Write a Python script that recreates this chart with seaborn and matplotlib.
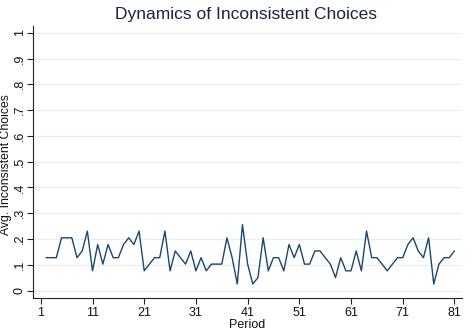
import matplotlib
matplotlib.use("Agg")
import matplotlib.pyplot as plt
import seaborn as sns
import pandas as pd

periods = list(range(2, 82))
avg_inconsistent = [
    0.128, 0.128, 0.128, 0.205, 0.205, 0.205, 0.128, 0.154, 0.231, 0.077,
    0.179, 0.103, 0.179, 0.128, 0.128, 0.179, 0.205, 0.179, 0.231, 0.077,
    0.103, 0.128, 0.128, 0.231, 0.077, 0.154, 0.128, 0.103, 0.154, 0.077,
    0.128, 0.077, 0.103, 0.103, 0.103, 0.205, 0.128, 0.026, 0.256, 0.103,
    0.026, 0.051, 0.205, 0.077, 0.128, 0.128, 0.077, 0.179, 0.128, 0.179,
    0.103, 0.103, 0.154, 0.154, 0.128, 0.103, 0.051, 0.128, 0.077, 0.077,
    0.154, 0.077, 0.231, 0.128, 0.128, 0.103, 0.077, 0.103, 0.128, 0.128,
    0.179, 0.205, 0.154, 0.128, 0.205, 0.026, 0.103, 0.128, 0.128, 0.154,
]
x_ticks = [1, 11, 21, 31, 41, 51, 61, 71, 81]
y_ticks = [0, 0.1, 0.2, 0.3, 0.4, 0.5, 0.6, 0.7, 0.8, 0.9, 1.0]
y_tick_labels = ["0", ".1", ".2", ".3", ".4", ".5", ".6", ".7", ".8", ".9", "1"]

df = pd.DataFrame({"Period": periods, "Avg": avg_inconsistent})

sns.set_style("white")
plt.rcParams["font.family"] = ["Liberation Sans", "DejaVu Sans"]

fig = plt.figure(figsize=(4.74, 3.36), dpi=100)
ax = fig.add_axes([0.0703, 0.1122, 0.9037, 0.8104])

sns.lineplot(data=df, x="Period", y="Avg", ax=ax, color="#1a476f", linewidth=1.0)

ax.set_xlim(-0.45, 82.4)
ax.set_ylim(-0.0295, 1.026)
ax.set_xticks(x_ticks)
ax.set_xticklabels([str(t) for t in x_ticks])
ax.set_yticks(y_ticks)
ax.set_yticklabels(y_tick_labels, rotation=90, va="center")

for yv in y_ticks:
    ax.axhline(yv, color="#eaeef0", linewidth=0.9, zorder=0)

for side in ["top", "right"]:
    ax.spines[side].set_visible(False)
for side in ["left", "bottom"]:
    ax.spines[side].set_color("#222222")
    ax.spines[side].set_linewidth(0.8)

ax.tick_params(axis="both", which="both", direction="out", length=4.5, width=0.8,
               color="#222222", labelsize=9, labelcolor="#111111", pad=2,
               left=True, bottom=True)
ax.tick_params(axis="y", pad=1)

ax.set_xlabel("Period", fontsize=9, color="#111111", labelpad=0)
ax.set_ylabel("Avg. Inconsistent Choices", fontsize=8.8, color="#111111")
ax.yaxis.set_label_coords(-0.049, 0.49)
fig.text(0.518, 0.958, "Dynamics of Inconsistent Choices", ha="center", va="center",
         fontsize=12.5, color="#1a2440")

fig.savefig("out.png", dpi=100, facecolor="white")
